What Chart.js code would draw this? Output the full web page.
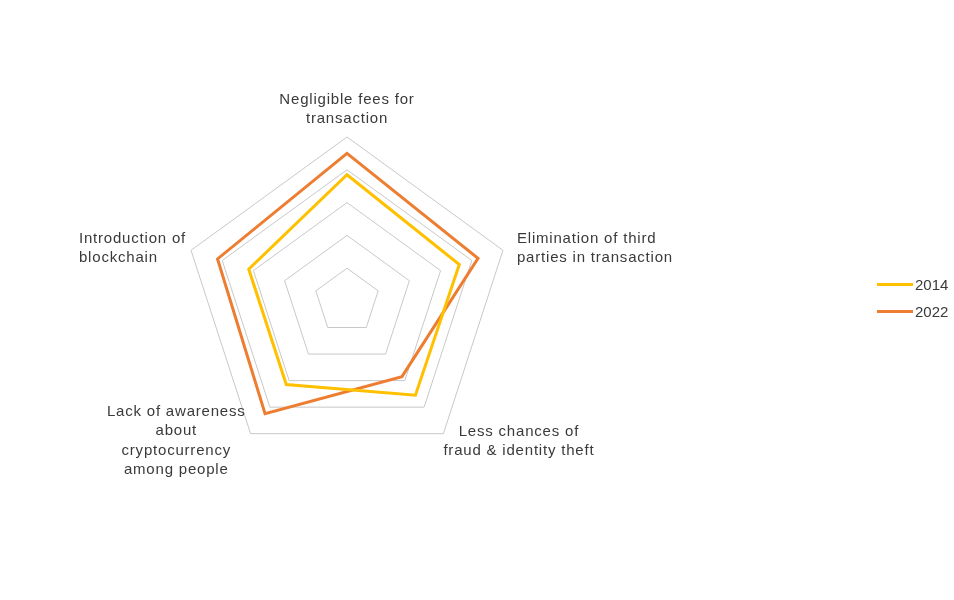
<!DOCTYPE html>
<html>
<head>
<meta charset="utf-8">
<script src="https://cdn.jsdelivr.net/npm/chart.js@4.4.1/dist/chart.umd.min.js"></script>
<style>
  html, body { margin: 0; padding: 0; background: #fff; }
  #wrap { position: relative; width: 954px; height: 600px; }
  #legend { position: absolute; left: 877px; top: 271px; font: 15px "Liberation Sans", Arial, sans-serif; color: #3a3a3a; }
  .leg-row { display: flex; align-items: center; height: 27px; }
  .leg-line { width: 36px; height: 3px; margin-right: 2px; }
</style>
</head>
<body>
<div id="wrap">
  <canvas id="radar" width="954" height="600"></canvas>
  <div id="legend"></div>
</div>
<script>
// axis labels, clockwise from the top
const categories = [
    ['Negligible fees for', 'transaction'],
    ['Elimination of third', 'parties in transaction'],
    ['Less chances of', 'fraud & identity theft'],
    ['Lack of awareness', 'about', 'cryptocurrency', 'among people'],
    ['Introduction of', 'blockchain']
];
const seriesNames = ['2014', '2022'];
const values2014 = [77, 72, 71, 63, 63];
const values2022 = [90, 84, 57, 85, 83];
const colors = ['#FFC000', '#ED7D31'];

// where each label block sits relative to its corner (Excel style placement)
const labelPlace = [
    { bx: 'center', by: 'bottom', dx: 0, dy: -8, line: 'center' },
    { bx: 'left', by: 'middle', dx: 14, dy: -2, line: 'left' },
    { bx: 'left', by: 'top', dx: 0, dy: -12, line: 'center' },
    { bx: 'right', by: 'top', dx: -5, dy: -32, line: 'center' },
    { bx: 'right', by: 'middle', dx: -5, dy: -2, line: 'left' }
];
const LINE_H = 19.5;

const labelPlugin = {
    id: 'cornerLabels',
    afterDraw(chart) {
        const scale = chart.scales.r;
        const ctx = chart.ctx;
        ctx.save();
        ctx.font = '15px "Liberation Sans", Arial, sans-serif';
        ctx.letterSpacing = '0.8px';
        ctx.fillStyle = '#3a3a3a';
        ctx.textBaseline = 'middle';
        categories.forEach((lines, i) => {
            const p = scale.getPointPosition(i, scale.drawingArea);
            const place = labelPlace[i];
            const w = Math.max(...lines.map(l => ctx.measureText(l).width));
            const h = lines.length * LINE_H;
            let left = p.x + place.dx;
            if (place.bx === 'center') left -= w / 2;
            if (place.bx === 'right') left -= w;
            let top = p.y + place.dy;
            if (place.by === 'middle') top -= h / 2;
            if (place.by === 'bottom') top -= h;
            lines.forEach((txt, k) => {
                const y = top + LINE_H * (k + 0.5);
                if (place.line === 'center') {
                    ctx.textAlign = 'center';
                    ctx.fillText(txt, left + w / 2, y);
                } else {
                    ctx.textAlign = 'left';
                    ctx.fillText(txt, left, y);
                }
            });
        });
        ctx.restore();
    }
};

new Chart(document.getElementById('radar'), {
    type: 'radar',
    data: {
        labels: categories,
        datasets: [
            { label: seriesNames[0], data: values2014, borderColor: colors[0], backgroundColor: 'transparent', borderWidth: 3, pointRadius: 0, fill: false },
            { label: seriesNames[1], data: values2022, borderColor: colors[1], backgroundColor: 'transparent', borderWidth: 3, pointRadius: 0, fill: false }
        ]
    },
    options: {
        responsive: false,
        animation: false,
        layout: { padding: { left: 183, right: 443, top: 137, bottom: 135 } },
        scales: {
            r: {
                min: 0,
                max: 100,
                ticks: { display: false, stepSize: 20 },
                grid: { color: '#c8c8c8', lineWidth: 1 },
                angleLines: { display: false },
                pointLabels: { display: false }
            }
        },
        plugins: {
            legend: { display: false },
            tooltip: { enabled: false }
        }
    },
    plugins: [labelPlugin]
});

// legend
document.getElementById('legend').innerHTML = seriesNames.map((name, i) => `
    <div class="leg-row">
        <div class="leg-line" style="background:${colors[i]}"></div>
        <span>${name}</span>
    </div>
`).join('');
</script>
</body>
</html>
